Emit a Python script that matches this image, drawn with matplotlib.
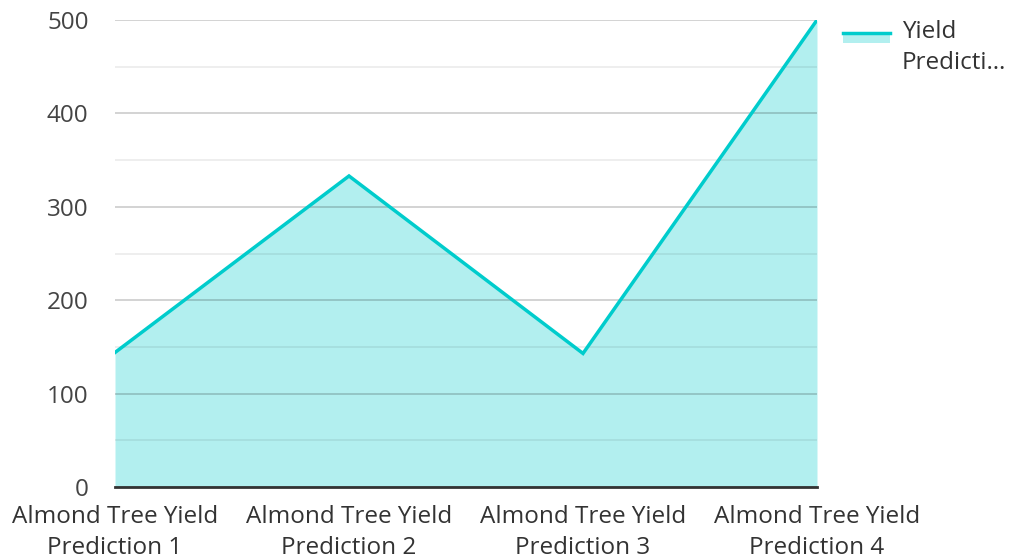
import matplotlib.pyplot as plt
from matplotlib.lines import Line2D
from matplotlib.patches import Rectangle

plt.rcParams['font.family'] = ['Open Sans', 'DejaVu Sans']

# data
categories = ['Almond Tree Yield\nPrediction 1', 'Almond Tree Yield\nPrediction 2',
              'Almond Tree Yield\nPrediction 3', 'Almond Tree Yield\nPrediction 4']
yield_values = [144, 333, 143, 500]
series_name = 'Yield\nPredicti\u2026'

line_color = '#00cccc'
W, H = 1011, 560

fig = plt.figure(figsize=(W / 100, H / 100), dpi=100)
ax = fig.add_axes([115 / W, 1 - 487 / H, (817 - 115) / W, (487 - 20) / H])

x = list(range(len(categories)))
ax.fill_between(x, yield_values, 0, color=line_color, alpha=0.3, linewidth=0, zorder=1)
ax.plot(x, yield_values, color=line_color, linewidth=2.5, zorder=3, solid_joinstyle='miter')

ax.set_xlim(0, len(categories) - 1)
ax.set_ylim(0, 500)
ax.set_yticks([0, 100, 200, 300, 400, 500])
ax.set_yticks([50, 150, 250, 350, 450], minor=True)
ax.grid(axis='y', which='major', color='black', alpha=0.2, linewidth=1.2, zorder=2)
ax.grid(axis='y', which='minor', color='black', alpha=0.08, linewidth=1.2, zorder=2)
ax.set_axisbelow(False)

ax.set_xticks(x)
ax.set_xticklabels(categories, fontsize=17.5, color='#333333', linespacing=1.38)
ax.tick_params(axis='y', which='both', length=0, labelsize=17.5, labelcolor='#444444', pad=19)
ax.tick_params(axis='x', length=0, pad=13)

for side in ['top', 'right', 'left']:
    ax.spines[side].set_visible(False)
ax.spines['bottom'].set_color('#333333')
ax.spines['bottom'].set_linewidth(2)
ax.spines['bottom'].set_zorder(4)

# legend, drawn by hand so the text is top aligned with the key
fig.add_artist(Rectangle((843 / W, 1 - 43 / H), 47 / W, 11 / H, transform=fig.transFigure,
                         facecolor=line_color, alpha=0.3, linewidth=0))
fig.add_artist(Line2D([843 / W, 890 / W], [1 - 33 / H, 1 - 33 / H], transform=fig.transFigure,
                      color=line_color, linewidth=2.5))
fig.text(902 / W, 1 - 20 / H, series_name, fontsize=17.5, color='#333333',
         va='top', ha='left', linespacing=1.38)

fig.savefig('out.png', dpi=100)
